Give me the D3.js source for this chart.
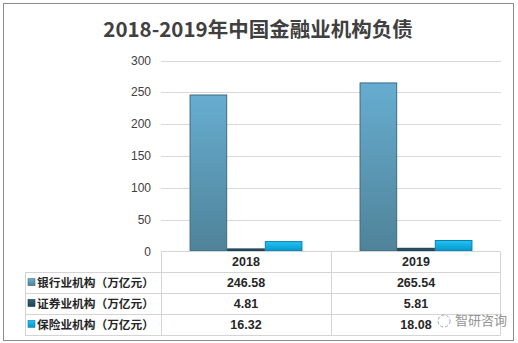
<!DOCTYPE html>
<html>
<head>
<meta charset="utf-8">
<script src="https://cdn.jsdelivr.net/npm/d3@7.9.0/dist/d3.min.js"></script>
<style>
  body { margin: 0; background: #fff; }
  svg { display: block; font-family: "Noto Sans CJK SC", "Noto Sans", sans-serif; }
</style>
</head>
<body>
<svg id="chart" width="518" height="343"></svg>
<script>
const title = "2018-2019年中国金融业机构负债";
const years = ["2018", "2019"];
const seriesNames = ["银行业机构（万亿元）", "证券业机构（万亿元）", "保险业机构（万亿元）"];
const bankValues = [246.58, 265.54];
const securitiesValues = [4.81, 5.81];
const insuranceValues = [16.32, 18.08];
const yTicks = [0, 50, 100, 150, 200, 250, 300];

const series = [
  { name: seriesNames[0], values: bankValues, c1: "#67add0", c2: "#4f8399", stroke: "#3b6a82" },
  { name: seriesNames[1], values: securitiesValues, c1: "#2f6277", c2: "#1e4557", stroke: "#173a4a" },
  { name: seriesNames[2], values: insuranceValues, c1: "#22c3f7", c2: "#0596c8", stroke: "#0a80ad" },
];

const svg = d3.select("#chart");
const plotLeft = 161, plotRight = 501, plotTop = 60.5, plotBase = 251.5;
const rowH = 20.8;

// outer frame
svg.append("rect").attr("x", 3.5).attr("y", 3.5).attr("width", 510).attr("height", 337)
  .attr("fill", "#fff").attr("stroke", "#8c8c8c");

svg.append("text").attr("x", 258).attr("y", 37).attr("text-anchor", "middle")
  .attr("font-size", 20.5).attr("font-weight", "bold").attr("fill", "#404040")
  .text(title);

const defs = svg.append("defs");
series.forEach((s, i) => {
  const g = defs.append("linearGradient").attr("id", "grad" + i)
    .attr("x1", 0).attr("y1", 0).attr("x2", 0).attr("y2", 1);
  g.append("stop").attr("offset", "0%").attr("stop-color", s.c1);
  g.append("stop").attr("offset", "100%").attr("stop-color", s.c2);
});

const y = d3.scaleLinear().domain([0, 300]).range([plotBase, plotTop]);
const x = d3.scaleBand().domain(years).range([plotLeft, plotRight]);
const gap = x.bandwidth() * 0.168;
const xInner = d3.scaleBand().domain(d3.range(series.length)).range([gap, x.bandwidth() - gap]);

// gridlines
svg.append("g").selectAll("line").data(yTicks.filter(t => t > 0)).join("line")
  .attr("x1", plotLeft).attr("x2", plotRight)
  .attr("y1", d => Math.round(y(d)) + 0.5).attr("y2", d => Math.round(y(d)) + 0.5)
  .attr("stroke", "#d9d9d9");

// y labels
svg.append("g").selectAll("text").data(yTicks).join("text")
  .attr("x", 151).attr("y", d => y(d) + 4).attr("text-anchor", "end")
  .attr("font-size", 12).attr("fill", "#404040").attr("font-family", "Liberation Sans, sans-serif")
  .text(d => d);

// bars
series.forEach((s, i) => {
  svg.append("g").selectAll("rect").data(years).join("rect")
    .attr("x", (d) => x(d) + xInner(i) + 0.5)
    .attr("y", (d, j) => y(s.values[j]) + 0.5)
    .attr("width", xInner.bandwidth() - 1)
    .attr("height", (d, j) => plotBase - y(s.values[j]) - 1)
    .attr("fill", `url(#grad${i})`)
    .attr("stroke", s.stroke).attr("stroke-width", 1);
});

// data table
const tableLeft = 25;
const tg = svg.append("g").attr("stroke", "#d4d4d4").attr("fill", "none");
tg.append("line").attr("x1", plotLeft).attr("x2", plotRight - 1).attr("y1", plotBase).attr("y2", plotBase);
for (let r = 1; r <= 4; r++) {
  const yy = Math.round(plotBase + r * rowH) + 0.5;
  tg.append("line").attr("x1", tableLeft).attr("x2", plotRight - 1).attr("y1", yy).attr("y2", yy);
}
const tableBottom = Math.round(plotBase + 4 * rowH) + 0.5;
tg.append("line").attr("x1", tableLeft + 0.5).attr("x2", tableLeft + 0.5)
  .attr("y1", Math.round(plotBase + rowH) + 0.5).attr("y2", tableBottom);
[plotLeft, x("2019"), plotRight - 1].forEach(xx => {
  tg.append("line").attr("x1", Math.round(xx) + 0.5).attr("x2", Math.round(xx) + 0.5)
    .attr("y1", plotBase).attr("y2", tableBottom);
});

// header labels
svg.append("g").selectAll("text").data(years).join("text")
  .attr("x", d => x(d) + x.bandwidth() / 2).attr("y", plotBase + rowH / 2 + 4.5)
  .attr("text-anchor", "middle").attr("font-size", 12.5).attr("font-weight", "bold")
  .attr("fill", "#262626").attr("font-family", "Liberation Sans, sans-serif")
  .text(d => d);

series.forEach((s, i) => {
  const cy = plotBase + rowH * (i + 1) + rowH / 2;
  svg.append("rect").attr("x", 28).attr("y", cy - 4).attr("width", 7).attr("height", 7)
    .attr("fill", `url(#grad${i})`).attr("stroke", s.stroke).attr("stroke-width", 0.6);
  svg.append("text").attr("x", 37).attr("y", cy + 4.5)
    .attr("font-size", 11.7).attr("font-weight", "bold").attr("fill", "#262626")
    .text(s.name);
  svg.append("g").selectAll("text").data(years).join("text")
    .attr("x", d => x(d) + x.bandwidth() / 2).attr("y", cy + 4.5)
    .attr("text-anchor", "middle").attr("font-size", 12.5).attr("font-weight", "bold")
    .attr("fill", "#262626").attr("font-family", "Liberation Sans, sans-serif")
    .text((d, j) => s.values[j].toFixed(2));
});

// watermark
const wm = svg.append("g").attr("opacity", 0.9);
wm.append("circle").attr("cx", 444).attr("cy", 321).attr("r", 6)
  .attr("fill", "#fff").attr("stroke", "#9a9a9a").attr("stroke-dasharray", "3,2");
wm.append("text").attr("x", 455).attr("y", 325).attr("font-size", 13)
  .attr("fill", "#8a8a8a").text("智研咨询");
</script>
</body>
</html>
